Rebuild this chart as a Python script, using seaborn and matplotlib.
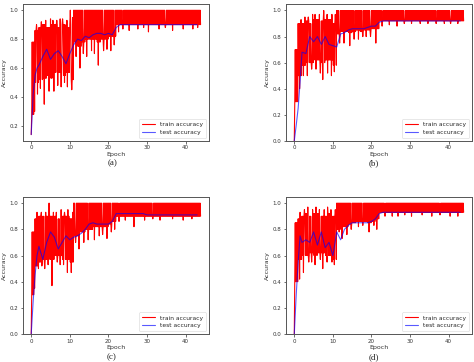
import numpy as np
import matplotlib
matplotlib.use("Agg")
import matplotlib.pyplot as plt
import seaborn as sns

# epochs at which test accuracy was evaluated
test_epochs = [0, 0.5, 1, 1.5] + list(range(2, 44))

# ---- (a) ----
hi_a = [0.78, 0.86, 0.88, 0.9, 0.88, 0.9, 0.9, 0.88, 0.9, 0.88, 0.9] + [1.0] * 33
lo_a = [0.28, 0.5, 0.52, 0.53, 0.55, 0.53, 0.57, 0.57, 0.55, 0.57, 0.52,
        0.78, 0.75, 0.78, 0.8, 0.8, 0.8, 0.78, 0.8, 0.8, 0.82, 0.82] + [0.9] * 22
spikes_a = [(1.25, 0.9), (2.5, 0.92), (3.6, 0.93), (4.9, 0.94), (5.5, 0.93),
            (6.5, 0.93), (7.4, 0.94), (8.0, 0.94), (9.1, 0.93), (10.0, 1.0), (10.6, 0.95),
            (0.75, 0.3), (1.5, 0.42), (2.25, 0.46), (3.25, 0.35), (4.5, 0.44),
            (5.75, 0.44), (6.8, 0.48), (7.6, 0.47), (8.5, 0.5), (9.25, 0.47),
            (10.4, 0.45), (11.5, 0.68), (12.5, 0.6), (13.4, 0.7), (14.25, 0.68),
            (15.5, 0.72), (16.3, 0.7), (17.25, 0.62), (18.6, 0.72), (19.5, 0.73),
            (20.5, 0.72), (21.4, 0.76), (22.5, 0.85), (23.6, 0.87), (25.25, 0.86),
            (27.5, 0.87), (29.0, 0.88), (30.25, 0.85), (33.0, 0.87), (34.6, 0.88),
            (36.5, 0.86), (39.25, 0.87), (41.75, 0.87), (43.0, 0.88)]
test_a = [0.14, 0.42, 0.55, 0.6, 0.62, 0.68, 0.73, 0.66, 0.7, 0.72, 0.68, 0.63,
          0.7, 0.76, 0.8, 0.79, 0.82, 0.81, 0.83, 0.84, 0.84, 0.83, 0.84, 0.83,
          0.88] + [0.9] * 21

# ---- (b) ----
hi_b = [0.7, 0.9, 0.9, 0.92, 0.9, 0.93, 0.93, 0.92, 0.93, 0.93, 0.9] + [1.0] * 33
lo_b = [0.3, 0.5, 0.58, 0.6, 0.6, 0.62, 0.62, 0.6, 0.62, 0.62, 0.58,
        0.82, 0.84, 0.84, 0.83, 0.84, 0.85, 0.84, 0.85, 0.85, 0.86, 0.86] + [0.92] * 22
spikes_b = [(1.6, 0.93), (2.6, 0.95), (3.5, 0.95), (4.6, 0.97), (5.3, 0.97),
            (6.4, 0.97), (7.5, 1.0), (8.4, 0.97), (9.6, 0.97), (10.5, 0.97),
            (1.25, 0.4), (2.3, 0.5), (3.25, 0.5), (4.4, 0.55), (5.5, 0.55),
            (6.6, 0.52), (7.25, 0.47), (8.5, 0.52), (9.5, 0.5), (10.3, 0.53),
            (11.6, 0.75), (12.75, 0.75), (14.25, 0.73), (15.4, 0.78), (16.5, 0.78),
            (17.6, 0.8), (18.5, 0.8), (19.6, 0.8), (21.0, 0.75), (22.6, 0.88),
            (24.5, 0.89), (26.5, 0.88), (28.4, 0.9), (30.25, 0.9), (32.5, 0.9),
            (34.5, 0.9), (36.6, 0.9), (38.75, 0.9), (40.4, 0.9), (42.25, 0.9)]
test_b = [0.0, 0.12, 0.25, 0.45, 0.68, 0.67, 0.8, 0.76, 0.8, 0.74, 0.8, 0.74,
          0.73, 0.72, 0.82, 0.83, 0.85, 0.86, 0.86, 0.86, 0.86, 0.87, 0.88, 0.88,
          0.91] + [0.92] * 21

# ---- (c) ----
hi_c = [0.78, 0.88, 0.9, 0.9, 0.9, 0.9, 0.9, 0.88, 0.9, 0.9, 0.88] + [1.0] * 33
lo_c = [0.3, 0.52, 0.55, 0.57, 0.57, 0.57, 0.6, 0.6, 0.57, 0.57, 0.55,
        0.75, 0.78, 0.78, 0.8, 0.8, 0.82, 0.82, 0.82, 0.82, 0.84, 0.86] + [0.9] * 22
spikes_c = [(1.4, 0.93), (2.5, 0.93), (3.6, 0.93), (4.5, 1.0), (5.6, 0.93),
            (6.4, 0.93), (7.6, 0.95), (8.5, 0.93), (9.4, 0.95), (10.6, 0.93),
            (0.75, 0.35), (1.75, 0.5), (2.6, 0.52), (3.4, 0.5), (4.25, 0.53),
            (5.25, 0.37), (6.6, 0.55), (7.4, 0.53), (8.25, 0.53), (9.25, 0.47),
            (10.25, 0.47), (11.4, 0.7), (12.25, 0.65), (13.5, 0.7), (14.6, 0.72),
            (16.25, 0.72), (17.5, 0.75), (18.4, 0.76), (19.5, 0.73), (20.6, 0.78),
            (21.5, 0.8), (22.6, 0.86), (24.25, 0.87), (26.5, 0.82), (29.25, 0.87),
            (31.4, 0.88), (33.25, 0.87), (36.5, 0.88), (39.25, 0.87), (41.5, 0.88)]
test_c = [0.0, 0.25, 0.45, 0.6, 0.67, 0.57, 0.7, 0.78, 0.74, 0.65, 0.7, 0.75,
          0.72, 0.74, 0.75, 0.77, 0.8, 0.84, 0.85, 0.84, 0.84, 0.84, 0.84, 0.86,
          0.92] + [0.92] * 7 + [0.91] * 14

# ---- (d) ----
hi_d = [0.85, 0.88, 0.9, 0.92, 0.9, 0.92, 0.92, 0.9, 0.9, 0.92, 0.9] + [1.0] * 33
lo_d = [0.4, 0.57, 0.6, 0.6, 0.62, 0.6, 0.62, 0.62, 0.6, 0.6, 0.57,
        0.8, 0.82, 0.82, 0.84, 0.85, 0.86, 0.86, 0.86, 0.85, 0.86, 0.88] + [0.93] * 22
spikes_d = [(1.4, 0.93), (2.5, 0.95), (3.4, 0.97), (4.6, 0.95), (5.5, 0.97),
            (6.4, 0.95), (7.6, 0.95), (8.5, 0.97), (9.4, 0.95), (10.5, 0.95),
            (1.25, 0.42), (2.25, 0.47), (3.6, 0.55), (4.4, 0.55), (5.25, 0.53),
            (6.6, 0.57), (7.25, 0.5), (8.4, 0.55), (9.6, 0.55), (10.25, 0.53),
            (11.5, 0.78), (12.25, 0.73), (13.5, 0.76), (14.6, 0.8), (16.5, 0.82),
            (17.6, 0.83), (19.25, 0.78), (20.5, 0.83), (21.25, 0.8), (23.4, 0.9),
            (25.25, 0.9), (26.75, 0.9), (28.5, 0.91), (30.25, 0.9), (33.0, 0.91),
            (35.5, 0.9), (37.6, 0.91), (40.25, 0.9), (42.25, 0.9)]
test_d = [0.0, 0.3, 0.55, 0.75, 0.7, 0.72, 0.7, 0.78, 0.68, 0.78, 0.66, 0.7,
          0.6, 0.78, 0.72, 0.8, 0.83, 0.85, 0.85, 0.85, 0.85, 0.85, 0.86, 0.88,
          0.92] + [0.93] * 21

panels = [
    ("(a)", hi_a, lo_a, spikes_a, test_a, (0.097, 1.043)),
    ("(b)", hi_b, lo_b, spikes_b, test_b, (0.0, 1.05)),
    ("(c)", hi_c, lo_c, spikes_c, test_c, (0.0, 1.05)),
    ("(d)", hi_d, lo_d, spikes_d, test_d, (0.0, 1.05)),
]

# axes rectangles (figure fraction) and caption positions
rects = [
    [0.048, 0.611, 0.393, 0.378],
    [0.603, 0.611, 0.393, 0.378],
    [0.048, 0.077, 0.393, 0.380],
    [0.603, 0.077, 0.393, 0.380],
]
captions = [(0.238, 0.549), (0.789, 0.549), (0.236, 0.012), (0.789, 0.012)]


def train_curve(hi, lo, spikes, start, steps=8):
    # batches within each epoch swing between the band's top and bottom
    x = np.arange(len(hi) * steps) / steps
    idx = np.arange(len(x))
    y = np.where(idx % 2 == 0, np.repeat(hi, steps), np.repeat(lo, steps)).astype(float)
    y[0] = start
    for sx, sy in spikes:
        y[int(round(sx * steps)) + 1] = sy
    return x, y


sns.set_theme(style="ticks")
plt.rcParams["font.family"] = ["DejaVu Sans"]

fig = plt.figure(figsize=(4.74, 3.62), dpi=100)

for (name, hi, lo, spikes, test, ylim), rect, cap in zip(panels, rects, captions):
    ax = fig.add_axes(rect)
    tx, ty = train_curve(hi, lo, spikes, test[0])
    sns.lineplot(x=tx, y=ty, ax=ax, color="red", linewidth=0.8,
                 sort=False, estimator=None, label="train accuracy")
    sns.lineplot(x=test_epochs, y=test, ax=ax, color="blue", linewidth=0.8, alpha=0.65,
                 sort=False, estimator=None, label="test accuracy")
    ax.set_ylim(*ylim)
    ax.set_xticks([0, 10, 20, 30, 40])
    ax.set_yticks([0.0, 0.2, 0.4, 0.6, 0.8, 1.0] if ylim[0] == 0 else [0.2, 0.4, 0.6, 0.8, 1.0])
    ax.tick_params(labelsize=4, length=1.8, width=0.5, pad=1.5, colors="#333333")
    for sp in ax.spines.values():
        sp.set_linewidth(0.7)
        sp.set_color("#555555")
    ax.set_xlabel("Epoch", fontsize=4.5, labelpad=1, color="#333333")
    ax.set_ylabel("Accuracy", fontsize=4.5, labelpad=2, color="#333333")
    leg = ax.legend(loc="lower right", fontsize=4.3, frameon=True, handlelength=2.2,
                    borderpad=0.5, labelspacing=0.4, fancybox=True)
    leg.get_frame().set_linewidth(0.4)
    fig.text(cap[0], cap[1], name, ha="center", va="center", fontsize=6.5,
             family=["Liberation Serif", "DejaVu Serif"], color="#222222")

fig.savefig("out.png", dpi=100)
